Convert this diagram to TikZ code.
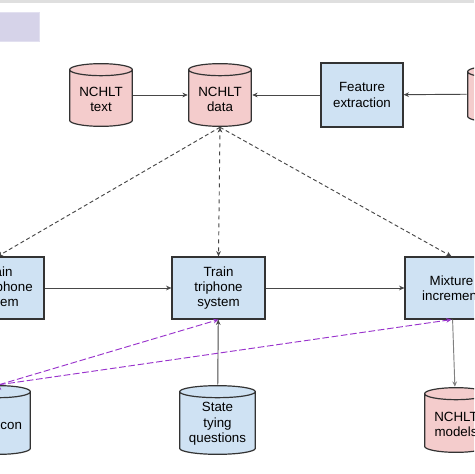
\documentclass[tikz,border=0pt]{standalone}
\usepackage{fontspec}
\setmainfont{Liberation Sans}
\usetikzlibrary{arrows.meta,calc}

\definecolor{boxblue}{RGB}{207,226,243}
\definecolor{cylpink}{RGB}{244,204,204}
\definecolor{linegray}{RGB}{51,51,51}
\definecolor{lexviolet}{RGB}{153,51,204}
\definecolor{tablav}{RGB}{214,211,233}

% cylinder drawn inside the node's box
\newcommand\storecyl[1]{%
	\draw[draw=linegray,line width=0.9pt,fill=#1]
	let \p1=(path picture bounding box.south west), \p2=(path picture bounding box.north east),
		\n1={(\x2-\x1)/2-0.5pt}
	in (\x1+0.5pt,\y2-5pt) -- (\x1+0.5pt,\y1+5pt)
	arc[start angle=180,end angle=360,x radius=\n1,y radius=4.5pt]
	-- (\x2-0.5pt,\y2-5pt)
	arc[start angle=0,end angle=180,x radius=\n1,y radius=4.5pt] -- cycle
	(\x1+0.5pt,\y2-5pt) arc[start angle=180,end angle=360,x radius=\n1,y radius=4.5pt];
}

\tikzset{
	procbox/.style={draw=linegray,line width=0.9pt,fill=boxblue,align=center,
		minimum width=69.75pt,minimum height=46.5pt,inner sep=2pt},
	store/.style={rectangle,align=center,inner sep=1pt,text height=25.5pt,
		minimum width=48pt,minimum height=48pt,path picture={\storecyl{#1}}},
	pinkstore/.style={store=cylpink},
	bluestore/.style={store=boxblue},
	flow/.style={-{Stealth[length=4pt,width=3.5pt]},draw=linegray!90,line width=0.7pt},
	lexflow/.style={flow,draw=lexviolet,dashed,dash pattern=on 5pt off 2pt}
}

\begin{document}
\begin{tikzpicture}[x=0.75pt,y=-0.75pt,font=\fontsize{10}{11.5}\selectfont]
	\useasboundingbox (0,0) rectangle (474,474);
	\clip (0,0) rectangle (474,474);
	\fill[gray!25] (0,0) rectangle (474,3);
	\draw[tablav!70,fill=tablav] (-2,12) rectangle (39,41);

	% sources
	\node[pinkstore] (text) at (101,95) {NCHLT\\text};
	\node[pinkstore] (data) at (220,95) {NCHLT\\data};
	\node[procbox,minimum width=61.5pt,minimum height=48pt] (feat) at (362,95) {Feature\\extraction};
	\node[pinkstore,minimum height=43.5pt] (audio) at (499,94) {};

	% training
	\node[procbox] (mono) at (-2.5,288) {Train\\monophone\\system};
	\node[procbox] (tri) at (218.5,288) {Train\\triphone\\system};
	\node[procbox] (mix) at (451.5,288) {Mixture\\increment};

	% resources
	\node[bluestore,minimum height=52.5pt,text height=14pt] (lex) at (-1,420) {Lexicon};
	\node[bluestore,minimum width=57.75pt,minimum height=52.5pt,text height=36pt] (state) at (217.5,420) {State\\tying\\questions};
	\node[pinkstore,minimum height=49.5pt] (models) at (456,420) {NCHLT\\models};

	\path[flow]
	(text)	edge (data)
	(feat)	edge (data)
	(audio)	edge (feat)
	(mono)	edge (tri)
	(tri)	edge (mix)
	(state)	edge (tri)
	(mix)	edge[draw=gray] (models);
	\path[flow]
	(data.south)	edge[densely dashed] (mono.north)
			edge[dashed] (tri.north)
			edge[densely dashed] (mix.north);
	\path[lexflow]
	(lex.north)	edge (tri.south)
			edge (mix.south);
\end{tikzpicture}
\end{document}
